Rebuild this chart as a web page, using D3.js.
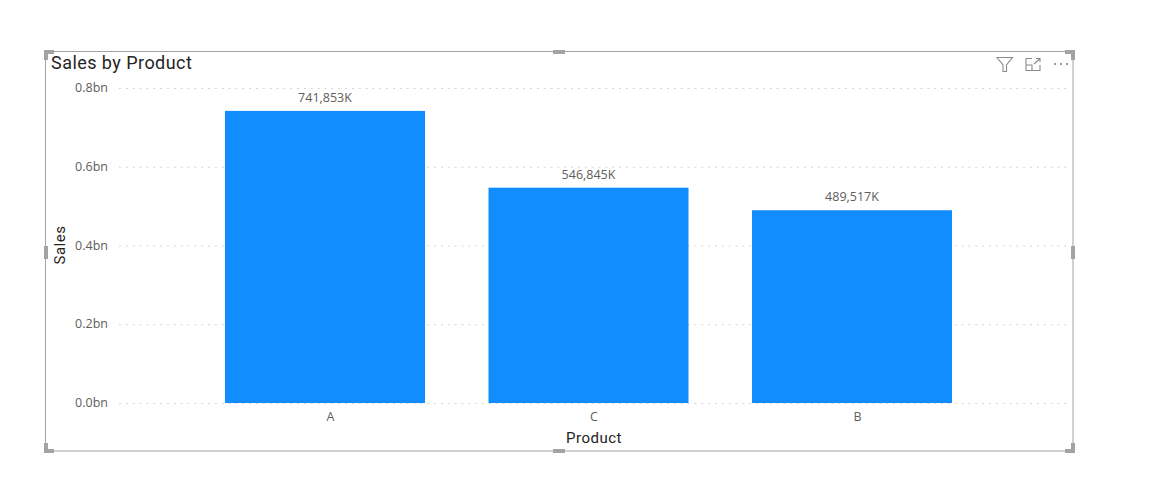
<!DOCTYPE html>
<html lang="en">
<head>
<meta charset="utf-8">
<script src="https://cdn.jsdelivr.net/npm/d3@7"></script>
<style>
html, body { margin: 0; padding: 0; background: #fff; overflow: hidden; }
svg { display: block; }
.tick text { font-family: "Open Sans", sans-serif; font-size: 12.5px; fill: #605e5c; }
.y-axis .tick line { stroke: #d6d5d4; stroke-width: 1px; stroke-dasharray: 2 4.85; }
.x-axis .tick line { display: none; }
.domain { display: none; }
.bar { fill: #118dff; }
.bar-label { font-family: "Open Sans", sans-serif; font-size: 12.5px; fill: #605e5c; text-anchor: middle; }
.title { font-family: Roboto, sans-serif; font-size: 18px; fill: #252423; letter-spacing: 0.45px; }
.axis-title { font-family: Roboto, sans-serif; font-size: 15px; fill: #252423; letter-spacing: 0.5px; text-anchor: middle; }
.frame { fill: none; stroke: #a3a3a3; stroke-width: 1px; }
.handle { fill: #a3a3a3; }
.icon { fill: none; stroke: #8a8a8a; stroke-width: 1.1px; }
</style>
</head>
<body>
<script>
// values, in thousands
var products = ["A", "C", "B"];
var sales = [741853, 546845, 489517];
var yTicks = [0, 200000, 400000, 600000, 800000];

var svg = d3.select("body").append("svg")
    .attr("width", 1161)
    .attr("height", 477);

var x = d3.scaleBand().domain(products).range([193.25, 983.75]).paddingInner(0.241).paddingOuter(0.1205);
var y = d3.scaleLinear().domain([0, 800000]).range([403, 88]);

// visual frame and resize handles
svg.append("rect").attr("class", "frame")
    .attr("x", 45.5).attr("y", 51.5).attr("width", 1027.5).attr("height", 399.5);

var corners = [[44, 50, 10, 4], [44, 50, 4, 10], [1065, 50, 10, 4], [1071, 50, 4, 10],
    [44, 443, 4, 10], [44, 449, 10, 4], [1065, 449, 10, 4], [1071, 443, 4, 10],
    [553, 50, 12, 4], [553, 449, 12, 4], [44, 246, 4, 13], [1071, 246, 4, 13]];
svg.selectAll(".handle").data(corners).enter().append("rect")
    .attr("class", "handle")
    .attr("x", function(d){ return d[0]; })
    .attr("y", function(d){ return d[1]; })
    .attr("width", function(d){ return d[2]; })
    .attr("height", function(d){ return d[3]; });

// y axis, the tick lines are the dotted grid
var yAxis = svg.append("g")
    .attr("class", "y-axis")
    .attr("transform", "translate(119,0)")
    .call(d3.axisLeft(y)
        .tickValues(yTicks)
        .tickSize(-949)
        .tickPadding(11)
        .tickFormat(function(d){ return (d / 1000000).toFixed(1) + "bn"; }));
yAxis.selectAll(".tick text").attr("dy", "0.28em");

svg.selectAll(".bar")
    .data(sales)
    .enter()
    .append("rect")
    .attr("class", "bar")
    .attr("x", function(d, i){ return x(products[i]); })
    .attr("y", function(d){ return y(d); })
    .attr("width", x.bandwidth())
    .attr("height", function(d){ return y(0) - y(d); });

var formatNumber = d3.format(",");
svg.selectAll(".bar-label")
    .data(sales)
    .enter()
    .append("text")
    .attr("class", "bar-label")
    .attr("x", function(d, i){ return x(products[i]) + x.bandwidth() / 2; })
    .attr("y", function(d){ return y(d) - 9; })
    .text(function(d){ return formatNumber(d) + "K"; });

// the category labels sit a little right of the bar centres
svg.append("g")
    .attr("class", "x-axis")
    .attr("transform", "translate(5.5,403)")
    .call(d3.axisBottom(x).tickSize(0).tickPadding(9));

svg.append("text").attr("class", "title").attr("x", 51).attr("y", 69).text("Sales by Product");
svg.append("text").attr("class", "axis-title").attr("x", 594).attr("y", 443).text("Product");
svg.append("text").attr("class", "axis-title")
    .attr("transform", "translate(65,245) rotate(-90)")
    .text("Sales");

// header icons: filter, focus mode, more options
svg.append("path").attr("class", "icon").attr("d", "M997 57.5H1012.5L1006.5 65V71.5H1003V65Z");
svg.append("path").attr("class", "icon").attr("d", "M1032 58.5H1026V70.5H1040V65M1026 65H1032V70.5M1034 64L1040 58.5M1036 58.5H1040V62");
svg.selectAll(".dot").data([1055, 1061, 1067]).enter().append("circle")
    .attr("class", "dot")
    .attr("cx", function(d){ return d; })
    .attr("cy", 64)
    .attr("r", 1)
    .attr("fill", "#7a7a7a");
</script>
</body>
</html>
